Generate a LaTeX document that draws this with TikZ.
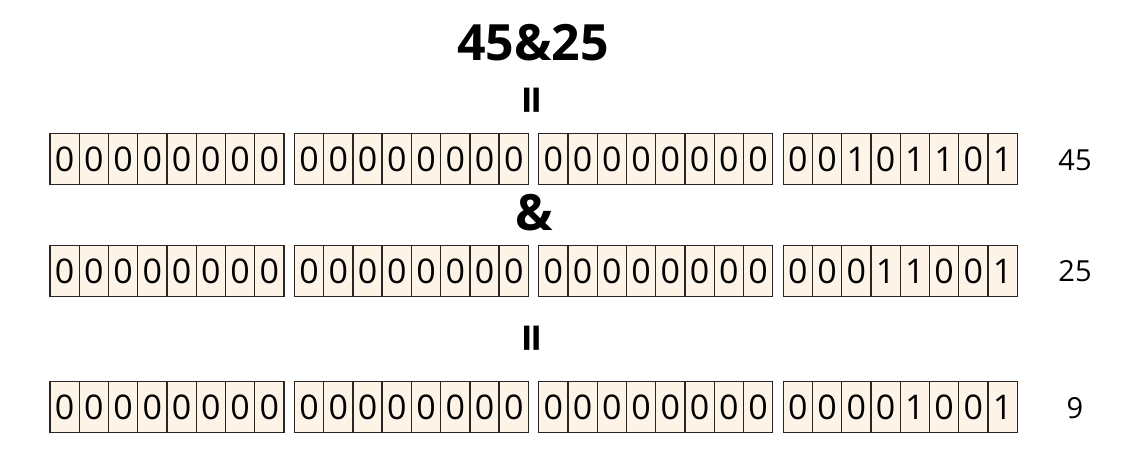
\documentclass[tikz,border=0pt]{standalone}
\usepackage{fontspec}
\setmainfont{Open Sans}
\definecolor{bitfill}{RGB}{254,243,231}
\begin{document}
\begin{tikzpicture}[x=1pt,y=-1pt]
	\tikzset{
	  BitStyle/.style = { draw=black!85, fill=bitfill, line width=1.3pt,
	                      minimum width=29.25pt, minimum height=51.5pt,
	                      inner sep=0pt, font=\fontsize{34}{34}\selectfont },
	  NumStyle/.style = { font=\fontsize{29}{29}\selectfont },
	  OpStyle/.style = { font=\fontsize{50}{50}\selectfont\bfseries } }
	\useasboundingbox (0,0) rectangle (1140,474);
	% upper three bytes are all zero
	\foreach \r/\y in {1/159, 2/271, 3/407}
	  \foreach \g in {0,1,2}
	    \foreach \i in {0,...,7}
	      \node[BitStyle] (bit\r-\g-\i) at (64.6+244.4*\g+29.25*\i,\y) {0};
	% lowest byte
	\foreach \b [count=\i from 0] in {0,0,1,0,1,1,0,1}
	  \node[BitStyle] (bit1-3-\i) at (64.6+733.2+29.25*\i,159) {\b};
	\foreach \b [count=\i from 0] in {0,0,0,1,1,0,0,1}
	  \node[BitStyle] (bit2-3-\i) at (64.6+733.2+29.25*\i,271) {\b};
	\foreach \b [count=\i from 0] in {0,0,0,0,1,0,0,1}
	  \node[BitStyle] (bit3-3-\i) at (64.6+733.2+29.25*\i,407) {\b};
	\node[NumStyle] (numA) at (1075,160) {45};
	\node[NumStyle] (numB) at (1075,271) {25};
	\node[NumStyle] (numC) at (1075,408) {9};
	\node[OpStyle] (title) at (533,43) {45\&25};
	\node[OpStyle, rotate=90] (eqA) at (537,100) {=};
	\node[OpStyle] (andOp) at (534,213) {\&};
	\node[OpStyle, rotate=90] (eqB) at (537,338) {=};
\end{tikzpicture}
\end{document}
